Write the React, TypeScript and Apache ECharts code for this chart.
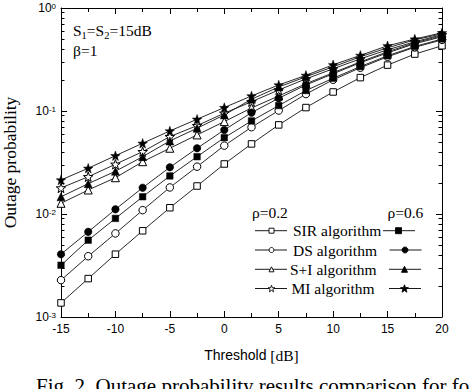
import React, { useEffect, useRef } from 'react';
import * as echarts from 'echarts';

// ---- data ----
const thresholds = [-15, -12.5, -10, -7.5, -5, -2.5, 0, 2.5, 5, 7.5, 10, 12.5, 15, 17.5, 20];

const sirRho02 = [0.00137, 0.00236, 0.00407, 0.00687, 0.0115, 0.0187, 0.0306, 0.0479, 0.0733, 0.108, 0.153, 0.211, 0.279, 0.357, 0.43];
const sirRho06 = [0.00318, 0.00557, 0.00906, 0.0147, 0.0234, 0.036, 0.0551, 0.0801, 0.113, 0.158, 0.208, 0.27, 0.344, 0.423, 0.5];
const dsRho02 = [0.00228, 0.00389, 0.00648, 0.0109, 0.0181, 0.0288, 0.0461, 0.0696, 0.101, 0.146, 0.201, 0.263, 0.336, 0.416, 0.49];
const dsRho06 = [0.00407, 0.00671, 0.0111, 0.018, 0.0284, 0.0435, 0.0655, 0.0964, 0.133, 0.179, 0.23, 0.294, 0.367, 0.45, 0.526];
const siRho02 = [0.0127, 0.0171, 0.0225, 0.0322, 0.0435, 0.0586, 0.0789, 0.107, 0.14, 0.184, 0.235, 0.3, 0.376, 0.46, 0.538];
const siRho06 = [0.0147, 0.0197, 0.026, 0.036, 0.0512, 0.068, 0.0917, 0.13, 0.171, 0.215, 0.269, 0.336, 0.411, 0.49, 0.562];
const miRho02 = [0.0179, 0.023, 0.0304, 0.0403, 0.0564, 0.0721, 0.0952, 0.123, 0.16, 0.205, 0.257, 0.321, 0.393, 0.47, 0.55];
const miRho06 = [0.0214, 0.0278, 0.0368, 0.0486, 0.064, 0.0832, 0.108, 0.14, 0.179, 0.222, 0.281, 0.347, 0.43, 0.5, 0.575];

const decadeTicks = [0.001, 0.01, 0.1, 1];
const algorithmNames = ['SIR algorithm', 'DS algorithm', 'S+I algorithm', 'MI algorithm'];
const rhoLabels = ['ρ=0.2', 'ρ=0.6'];
const captionText = 'Fig. 2. Outage probability results comparison for fo';

const SERIF = '"Liberation Serif", "Times New Roman", serif';
const SANS = '"Liberation Sans", Arial, sans-serif';

function starPoints(cx: number, cy: number, R: number, r: number): number[][] {
  const pts: number[][] = [];
  for (let i = 0; i < 10; i++) {
    const rad = i % 2 === 0 ? R : r;
    const a = -Math.PI / 2 + (i * Math.PI) / 5;
    pts.push([cx + rad * Math.cos(a), cy + rad * Math.sin(a)]);
  }
  return pts;
}
const STAR_SYMBOL =
  'path://M' + starPoints(50, 50, 50, 20).map((p) => `${p[0].toFixed(2)} ${p[1].toFixed(2)}`).join(' L') + ' Z';

type Shape = 'square' | 'circle' | 'triangle' | 'star';
const shapes: Shape[] = ['square', 'circle', 'triangle', 'star'];
const symbolOf: Record<Shape, string> = { square: 'rect', circle: 'circle', triangle: 'triangle', star: STAR_SYMBOL };
const sizeOf: Record<Shape, number> = { square: 6.5, circle: 7.5, triangle: 8, star: 9.5 };

const seriesData: { values: number[]; shape: Shape; filled: boolean; name: string }[] = [
  { values: sirRho02, shape: 'square', filled: false, name: 'SIR algorithm, ρ=0.2' },
  { values: dsRho02, shape: 'circle', filled: false, name: 'DS algorithm, ρ=0.2' },
  { values: siRho02, shape: 'triangle', filled: false, name: 'S+I algorithm, ρ=0.2' },
  { values: miRho02, shape: 'star', filled: false, name: 'MI algorithm, ρ=0.2' },
  { values: sirRho06, shape: 'square', filled: true, name: 'SIR algorithm, ρ=0.6' },
  { values: dsRho06, shape: 'circle', filled: true, name: 'DS algorithm, ρ=0.6' },
  { values: siRho06, shape: 'triangle', filled: true, name: 'S+I algorithm, ρ=0.6' },
  { values: miRho06, shape: 'star', filled: true, name: 'MI algorithm, ρ=0.6' },
];

function legendMarker(shape: Shape, filled: boolean, cx: number, cy: number, s: number): any {
  const style = { fill: filled ? '#000' : '#fff', stroke: '#000', lineWidth: 0.9 };
  if (shape === 'square') return { type: 'rect', shape: { x: cx - s / 2, y: cy - s / 2, width: s, height: s }, style };
  if (shape === 'circle') return { type: 'circle', shape: { cx, cy, r: s / 2 }, style };
  if (shape === 'triangle')
    return { type: 'polygon', shape: { points: [[cx, cy - s / 2], [cx + s / 2, cy + s / 2], [cx - s / 2, cy + s / 2]] }, style };
  return { type: 'polygon', shape: { points: starPoints(cx, cy + 0.4, s / 2 + 0.6, (s / 2 + 0.6) * 0.4) }, style };
}

export default function App() {
  const ref = useRef<HTMLDivElement>(null);

  useEffect(() => {
    if (!ref.current) return;
    const chart = echarts.init(ref.current, null, { renderer: 'svg' });

    const minorY: number[] = [];
    for (const d of [0.001, 0.01, 0.1]) for (let m = 2; m <= 9; m++) minorY.push(+(d * m).toPrecision(3));

    const axisLineStyle = { show: true, onZero: false, lineStyle: { color: '#000', width: 1 } };
    const xBase = {
      type: 'value',
      min: -15,
      max: 20,
      interval: 5,
      axisLine: axisLineStyle,
      axisTick: { show: true, inside: true, length: 6, lineStyle: { color: '#000' } },
      minorTick: { show: true, splitNumber: 2, length: 4, lineStyle: { color: '#000' } },
      splitLine: { show: false },
      minorSplitLine: { show: false },
    };
    const yBase = {
      type: 'log',
      logBase: 10,
      min: 0.001,
      max: 1,
      splitLine: { show: false },
    };

    const graphics: any[] = [];
    graphics.push({
      type: 'text',
      x: 73,
      y: 30,
      style: {
        text: 'S{sub|1}=S{sub|2}=15dB',
        fontFamily: SERIF,
        fontSize: 15.5,
        lineHeight: 22,
        fill: '#000',
        textVerticalAlign: 'middle',
        rich: {
          sub: { fontFamily: SERIF, fontSize: 10.5, lineHeight: 6, verticalAlign: 'bottom', fill: '#000' },
        },
      },
    });
    graphics.push({
      type: 'text',
      x: 73,
      y: 50,
      style: { text: 'β=1', fontFamily: SERIF, fontSize: 15.5, fill: '#000', textVerticalAlign: 'middle' },
    });

    // legend (drawn as graphic to reproduce the two-sided layout)
    graphics.push({
      type: 'text', x: 252, y: 212,
      style: { text: rhoLabels[0], fontFamily: SERIF, fontSize: 15.5, fill: '#000', textVerticalAlign: 'middle' },
    });
    graphics.push({
      type: 'text', x: 387.5, y: 212,
      style: { text: rhoLabels[1], fontFamily: SERIF, fontSize: 15.5, fill: '#000', textVerticalAlign: 'middle' },
    });
    const rowY = [230.7, 250, 269.3, 288.5];
    const textX = [293, 293, 290, 291.5];
    const rightStart = [383, 389.5, 389, 389];
    shapes.forEach((shape, i) => {
      const y = rowY[i];
      graphics.push({ type: 'line', shape: { x1: 255, y1: y, x2: 287, y2: y }, style: { stroke: '#000', lineWidth: 0.9 } });
      graphics.push(legendMarker(shape, false, 271.5, y, shape === 'star' ? 6 : 5));
      graphics.push({
        type: 'text', x: textX[i], y,
        style: { text: algorithmNames[i], fontFamily: SERIF, fontSize: 15.5, fill: '#000', textVerticalAlign: 'middle' },
      });
      const rs = rightStart[i];
      graphics.push({ type: 'line', shape: { x1: rs, y1: y, x2: rs + 32, y2: y }, style: { stroke: '#000', lineWidth: 0.9 } });
      graphics.push(legendMarker(shape, true, rs + 15.5, y, shape === 'star' ? 7 : 6));
    });

    graphics.push({
      type: 'text',
      x: 36,
      y: 375,
      style: { text: captionText, fontFamily: SERIF, fontSize: 21, fill: '#000', textVerticalAlign: 'top' },
    });

    const option: any = {
      animation: false,
      backgroundColor: '#fff',
      grid: { left: 61, right: 32, top: 8, bottom: 72, containLabel: false, outerBoundsMode: 'none' },
      xAxis: [
        {
          ...xBase,
          position: 'bottom',
          axisLabel: { show: true, color: '#000', fontFamily: SANS, fontSize: 12, margin: 6 },
          name: '{a|Threshold }{b|[dB]}',
          nameLocation: 'middle',
          nameGap: 30,
          nameMoveOverlap: false,
          nameTextStyle: {
            color: '#000',
            rich: {
              a: { fontFamily: SANS, fontSize: 14, color: '#000' },
              b: { fontFamily: SERIF, fontSize: 15.5, color: '#000' },
            },
          },
        },
        { ...xBase, position: 'top', axisLabel: { show: false } },
      ],
      yAxis: [
        {
          ...yBase,
          position: 'left',
          axisLine: axisLineStyle,
          axisTick: { show: true, inside: true, length: 6, lineStyle: { color: '#000' }, customValues: decadeTicks },
          axisLabel: {
            show: true,
            customValues: decadeTicks,
            margin: 5,
            formatter: (v: number) => `{m|10}{s|${Math.round(Math.log10(v))}}`,
            rich: {
              m: { fontFamily: SANS, fontSize: 12, lineHeight: 12, color: '#000' },
              s: { fontFamily: SANS, fontSize: 8, lineHeight: 4, verticalAlign: 'top', color: '#000' },
            },
          },
          name: 'Outage probability',
          nameLocation: 'middle',
          nameGap: 42,
          nameMoveOverlap: false,
          nameTextStyle: { fontFamily: SERIF, fontSize: 17.5, color: '#000' },
        },
        {
          ...yBase,
          position: 'right',
          axisLine: axisLineStyle,
          axisTick: { show: true, inside: true, length: 6, lineStyle: { color: '#000' }, customValues: decadeTicks },
          axisLabel: { show: false },
        },
        {
          ...yBase,
          position: 'left',
          axisLine: { show: false, onZero: false },
          axisTick: { show: true, inside: true, length: 3.5, lineStyle: { color: '#000' }, customValues: minorY },
          axisLabel: { show: false },
        },
        {
          ...yBase,
          position: 'right',
          axisLine: { show: false, onZero: false },
          axisTick: { show: true, inside: true, length: 3.5, lineStyle: { color: '#000' }, customValues: minorY },
          axisLabel: { show: false },
        },
      ],
      series: seriesData.map((s) => ({
        type: 'line',
        name: s.name,
        xAxisIndex: 0,
        yAxisIndex: 0,
        data: thresholds.map((x, i) => [x, s.values[i]]),
        symbol: symbolOf[s.shape],
        symbolSize: sizeOf[s.shape],
        showSymbol: true,
        clip: true,
        lineStyle: { color: '#111', width: 0.9 },
        itemStyle: {
          color: s.filled ? '#000' : '#fff',
          borderColor: '#000',
          borderWidth: s.filled ? 0.5 : 1,
        },
        emphasis: { disabled: true },
      })),
      graphic: graphics,
    };

    chart.setOption(option);
    return () => chart.dispose();
  }, []);

  return (
    <div
      ref={ref}
      style={{ position: 'fixed', left: 0, top: 0, width: 474, height: 389, background: '#fff' }}
    />
  );
}
